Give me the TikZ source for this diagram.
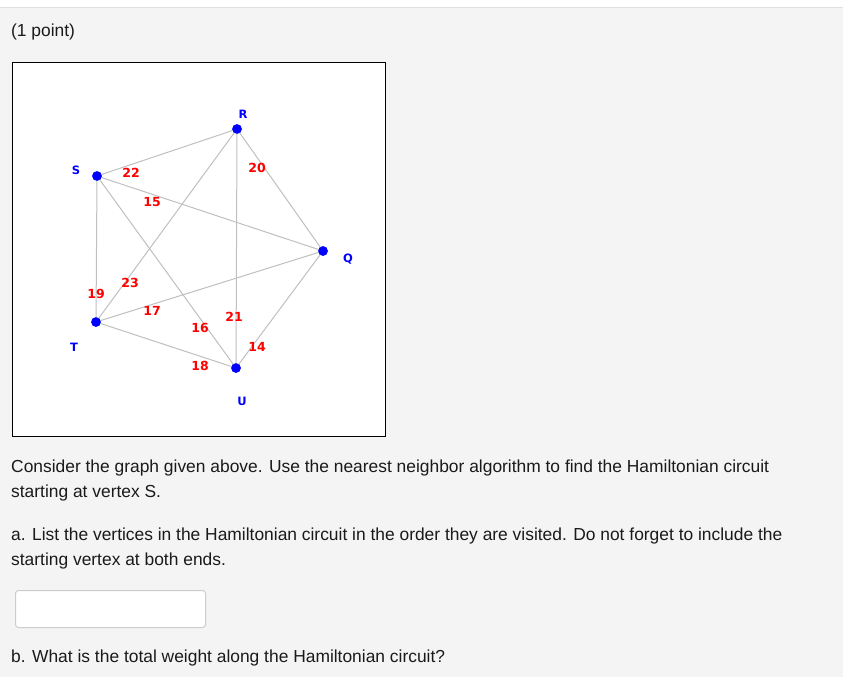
\documentclass[tikz,border=0pt]{standalone}
\usepackage{fontspec}
\setmainfont{Liberation Sans}
\newfontfamily\lblfont{DejaVu Sans}
\definecolor{pagebg}{HTML}{F4F4F4}
\definecolor{edgegray}{HTML}{C0C0C0}
\definecolor{vblue}{HTML}{0000FF}
\definecolor{wred}{HTML}{FF0000}
\definecolor{boxgray}{HTML}{CCCCCC}
\definecolor{txt}{HTML}{1A1A1A}
\begin{document}
\begin{tikzpicture}[x=1pt,y=-1pt,
  vtx/.style={circle,fill=vblue,inner sep=0pt,minimum size=9.5pt},
  vlab/.style={text=vblue,font=\lblfont\fontsize{11.5}{13}\selectfont\bfseries,inner sep=0pt},
  wlab/.style={text=wred,font=\lblfont\fontsize{12.5}{14}\selectfont\bfseries,inner sep=0pt},
  edge/.style={draw=edgegray,line width=1pt},
  para/.style={anchor=base west,inner sep=0pt,text=txt,font=\fontsize{17.4}{20}\selectfont}]
\useasboundingbox (0,0) rectangle (843,677);
\fill[pagebg] (0,0) rectangle (843,677);
\fill[white] (0,0) rectangle (843,7);
\draw[boxgray!60,line width=1pt] (0,7.5) -- (843,7.5);
\node[para] (pt) at (11,37) {(1 point)};
% graph frame
\node[draw=black,fill=white,line width=1pt,minimum width=373pt,minimum height=374pt,inner sep=0pt,anchor=north west] (frame) at (12,62) {};
% vertices
\node[vtx] (S) at (97,176) {};
\node[vtx] (R) at (237,129) {};
\node[vtx] (Q) at (323,251) {};
\node[vtx] (T) at (96,322) {};
\node[vtx] (U) at (236,368) {};
\node[vlab] (lS) at (76,170) {S};
\node[vlab] (lR) at (243,114) {R};
\node[vlab] (lQ) at (348,259) {Q};
\node[vlab] (lT) at (74,347) {T};
\node[vlab] (lU) at (242,401) {U};
% edges
\draw[edge] (S.center) -- (R.center);
\draw[edge] (S.center) -- (Q.center);
\draw[edge] (S.center) -- (T.center);
\draw[edge] (S.center) -- (U.center);
\draw[edge] (R.center) -- (T.center);
\draw[edge] (R.center) -- (U.center);
\draw[edge] (R.center) -- (Q.center);
\draw[edge] (T.center) -- (Q.center);
\draw[edge] (T.center) -- (U.center);
\draw[edge] (Q.center) -- (U.center);
% redraw vertices on top
\foreach \v in {S,R,Q,T,U} \fill[vblue] (\v) circle (4.75pt);
% weights
\node[wlab] (w22) at (131,173) {22};
\node[wlab] (w15) at (152,202) {15};
\node[wlab] (w20) at (257,168) {20};
\node[wlab] (w23) at (130,283) {23};
\node[wlab] (w19) at (96,294) {19};
\node[wlab] (w17) at (152,311) {17};
\node[wlab] (w16) at (200,328) {16};
\node[wlab] (w21) at (234,317) {21};
\node[wlab] (w14) at (257,347) {14};
\node[wlab] (w18) at (200,366) {18};
% text
\node[para] (p1) at (11,472) {Consider the graph given above. Use the nearest neighbor algorithm to find the Hamiltonian circuit};
\node[para] (p2) at (11,497) {starting at vertex S.};
\node[para] (p3) at (11,540) {a. List the vertices in the Hamiltonian circuit in the order they are visited. Do not forget to include the};
\node[para] (p4) at (11,565) {starting vertex at both ends.};
\node[draw=boxgray,fill=white,rounded corners=3pt,line width=1pt,minimum width=190pt,minimum height=37pt,inner sep=0pt,anchor=north west] (ans) at (15,590) {};
\node[para] (p5) at (11,662) {b. What is the total weight along the Hamiltonian circuit?};
\end{tikzpicture}
\end{document}
